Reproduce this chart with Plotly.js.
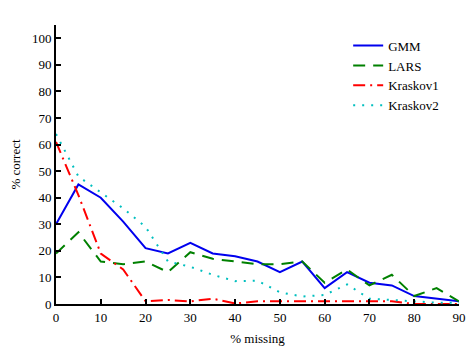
<!DOCTYPE html>
<html>
<head>
<meta charset="utf-8">
<script src="https://cdn.plot.ly/plotly-3.0.1.min.js"></script>
<style>html,body{margin:0;padding:0;background:#fff;}#chart{width:474px;height:349px;}</style>
</head>
<body>
<div id="chart"></div>
<script>
const missing = [0,5,10,15,20,25,30,35,40,45,50,55,60,65,70,75,80,85,90];
const gmm      = [30,45,40,31,21,19,23,19,18,16,12,16,6,12,8,7,3,2,1];
const lars     = [19,27,16,15,16,12,19.5,17,16,15,15,16,8,13,7,11,3,6,1];
const kraskov1 = [61,41,19,13,1,1.5,1,2,0.2,1,1,1,1,1,1,1,0,0,0];
const kraskov2 = [64,48,42,36,29,16,14,11,8.6,8.8,4.4,2.8,3.4,7.4,2,1.5,1,0.5,0.5];
const seriesNames = ['GMM','LARS','Kraskov1','Kraskov2'];
const xTicks = [0,10,20,30,40,50,60,70,80,90];
const yTicks = [0,10,20,30,40,50,60,70,80,90,100];

const font = {family:'"Liberation Serif", "Times New Roman", serif', size:13, color:'#000'};
const traces = [
  {x:missing, y:gmm, name:seriesNames[0], mode:'lines', line:{color:'#0000ee', width:2}},
  {x:missing, y:lars, name:seriesNames[1], mode:'lines', line:{color:'#008000', width:2, dash:'12px,8px'}},
  {x:missing, y:kraskov1, name:seriesNames[2], mode:'lines', line:{color:'#ff0000', width:2, dash:'12px,5px,2px,5px'}},
  {x:missing, y:kraskov2, name:seriesNames[3], mode:'lines', line:{color:'#00bfbf', width:2, dash:'2px,7px'}}
];
const layout = {
  width:474, height:349,
  margin:{l:56, r:15, t:25, b:45},
  paper_bgcolor:'#fff', plot_bgcolor:'#fff',
  font:font,
  showlegend:true,
  legend:{x:0.725, y:0.98, xanchor:'left', yanchor:'top', bgcolor:'rgba(0,0,0,0)', font:font, tracegroupgap:0},
  xaxis:{range:[0,90], tickvals:xTicks, ticktext:xTicks.map(String), ticks:'inside', ticklen:5, tickwidth:2, tickcolor:'#000',
         showline:true, linecolor:'#000', linewidth:2, showgrid:false, zeroline:false,
         title:{text:'% missing', font:font, standoff:10}, tickfont:font},
  yaxis:{range:[0,105], tickvals:yTicks, ticktext:yTicks.map(String), ticks:'inside', ticklen:5, tickwidth:2, tickcolor:'#000',
         showline:true, linecolor:'#000', linewidth:2, showgrid:false, zeroline:false,
         title:{text:'% correct', font:font, standoff:8}, tickfont:font}
};
Plotly.newPlot('chart', traces, layout, {displayModeBar:false, staticPlot:true});
</script>
</body>
</html>
